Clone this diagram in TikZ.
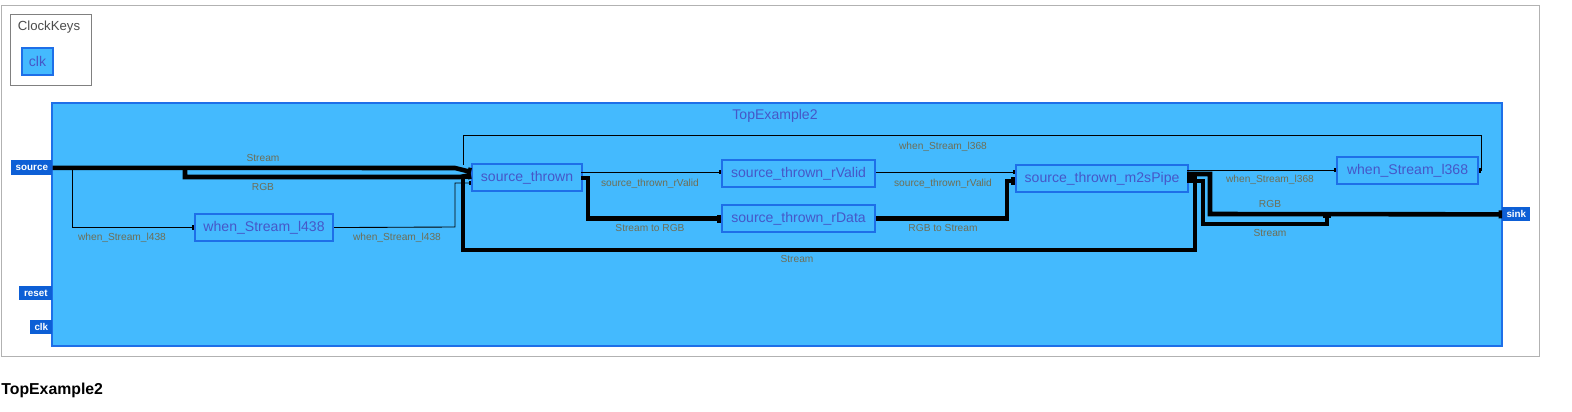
\documentclass[tikz,border=0pt]{standalone}
\usepackage{fontspec}
\setmainfont{Liberation Sans}
\usepackage{tikz}
\usetikzlibrary{arrows.meta,calc}
\definecolor{topFill}{HTML}{44BAFE}
\definecolor{topLine}{HTML}{1E6FE8}
\definecolor{portFill}{HTML}{0D5FD6}
\definecolor{unitText}{HTML}{4657C8}
\definecolor{wireText}{HTML}{6E6E55}
\tikzset{
  unit/.style={draw=topLine,line width=1.2pt,fill=topFill,text=unitText,
    font=\fontsize{8}{9}\selectfont,inner sep=0pt,anchor=north west},
  port/.style={fill=portFill,text=white,font=\bfseries\fontsize{5.6}{6}\selectfont,
    inner sep=0pt,anchor=north west},
  wire/.style={line width=0.5pt,-{Rectangle[length=1.2pt,width=2.5pt]}},
  bus/.style={line width=2.6pt,-{Rectangle[length=2pt,width=4.5pt]}},
  wlabel/.style={text=wireText,font=\fontsize{5.8}{6}\selectfont},
}
\begin{document}
\begin{tikzpicture}[x=0.02cm,y=-0.02cm]
\useasboundingbox (0,0) rectangle (1572,412);
\draw[gray!60] (1,5) rectangle (1539,356);
% clock keys
\draw[gray] (10,14) rectangle (91,85);
\node[text=black!70,font=\fontsize{7.5}{8}\selectfont] at (49,27) {ClockKeys};
\node[unit,minimum width=31*0.02cm,minimum height=27*0.02cm] (clkKey) at (21,47) {clk};
% top component
\draw[topLine,fill=topFill,line width=0.8pt] (52,103) rectangle (1502,346);
\node[text=unitText,font=\fontsize{8}{9}\selectfont] at (775,116) {TopExample2};
\node[port,minimum width=41*0.02cm,minimum height=15*0.02cm] (source) at (11,160) {source};
\node[port,minimum width=33*0.02cm,minimum height=14*0.02cm] (reset) at (19,286) {reset};
\node[port,minimum width=22*0.02cm,minimum height=14*0.02cm] (clk) at (30,320) {clk};
\node[port,minimum width=28*0.02cm,minimum height=14*0.02cm] (sink) at (1502,207) {sink};
% units
\node[unit,minimum width=110*0.02cm,minimum height=27*0.02cm] (st) at (471,163) {source\_thrown};
\node[unit,minimum width=153*0.02cm,minimum height=27*0.02cm] (rValid) at (721,159) {source\_thrown\_rValid};
\node[unit,minimum width=153*0.02cm,minimum height=27*0.02cm] (rData) at (721,204) {source\_thrown\_rData};
\node[unit,minimum width=172*0.02cm,minimum height=27*0.02cm] (pipe) at (1015,164) {source\_thrown\_m2sPipe};
\node[unit,minimum width=141*0.02cm,minimum height=27*0.02cm] (w368) at (1336,156) {when\_Stream\_l368};
\node[unit,minimum width=138*0.02cm,minimum height=27*0.02cm] (w438) at (194,213) {when\_Stream\_l438};
% wires
\draw[bus] (source.east) -- (455,168) -- (471,172);
\draw[bus] (185,168) -- (185,177) -- (460,177) -- (471,175);
\draw[wire] (72,168) |- (w438.west);
\draw[wire] (w438.east) -- (455,227) -- (455,183) -- (471,183);
\draw[wire] (463,165) -- (463,135) -- (1481,135) |- (w368.east);
\draw[wire] (581,172) -- (rValid.west |- 0,172);
\draw[bus] (581,178) -- (588,178) |- (rData.west);
\draw[wire] (rValid.east |- 0,172) -- (pipe.west |- 0,172);
\draw[bus] (rData.east) -| (1007,181) -- (pipe.west |- 0,181);
\draw[bus] (471,177) -- (463,177) |- (1195,250) |- (1187,178);
\draw[wire] (1187,170) -- (w368.west |- 0,170);
\draw[bus] (1187,174) -| (1210,214) -- (sink.west);
\draw[bus] (1187,181) -| (1203,224) -| (1327,214);
% labels
\node[wlabel] at (263,158) {Stream};
\node[wlabel] at (263,187) {RGB};
\node[wlabel] at (122,238) {when\_Stream\_l438};
\node[wlabel] at (397,238) {when\_Stream\_l438};
\node[wlabel] at (943,147) {when\_Stream\_l368};
\node[wlabel] at (650,184) {source\_thrown\_rValid};
\node[wlabel] at (650,228) {Stream to RGB};
\node[wlabel] at (943,184) {source\_thrown\_rValid};
\node[wlabel] at (943,228) {RGB to Stream};
\node[wlabel] at (797,259) {Stream};
\node[wlabel] at (1270,180) {when\_Stream\_l368};
\node[wlabel] at (1270,204) {RGB};
\node[wlabel] at (1270,233) {Stream};
\node[font=\bfseries\fontsize{9}{10}\selectfont,anchor=west,inner sep=0pt] at (1,390) {TopExample2};
\end{tikzpicture}
\end{document}
